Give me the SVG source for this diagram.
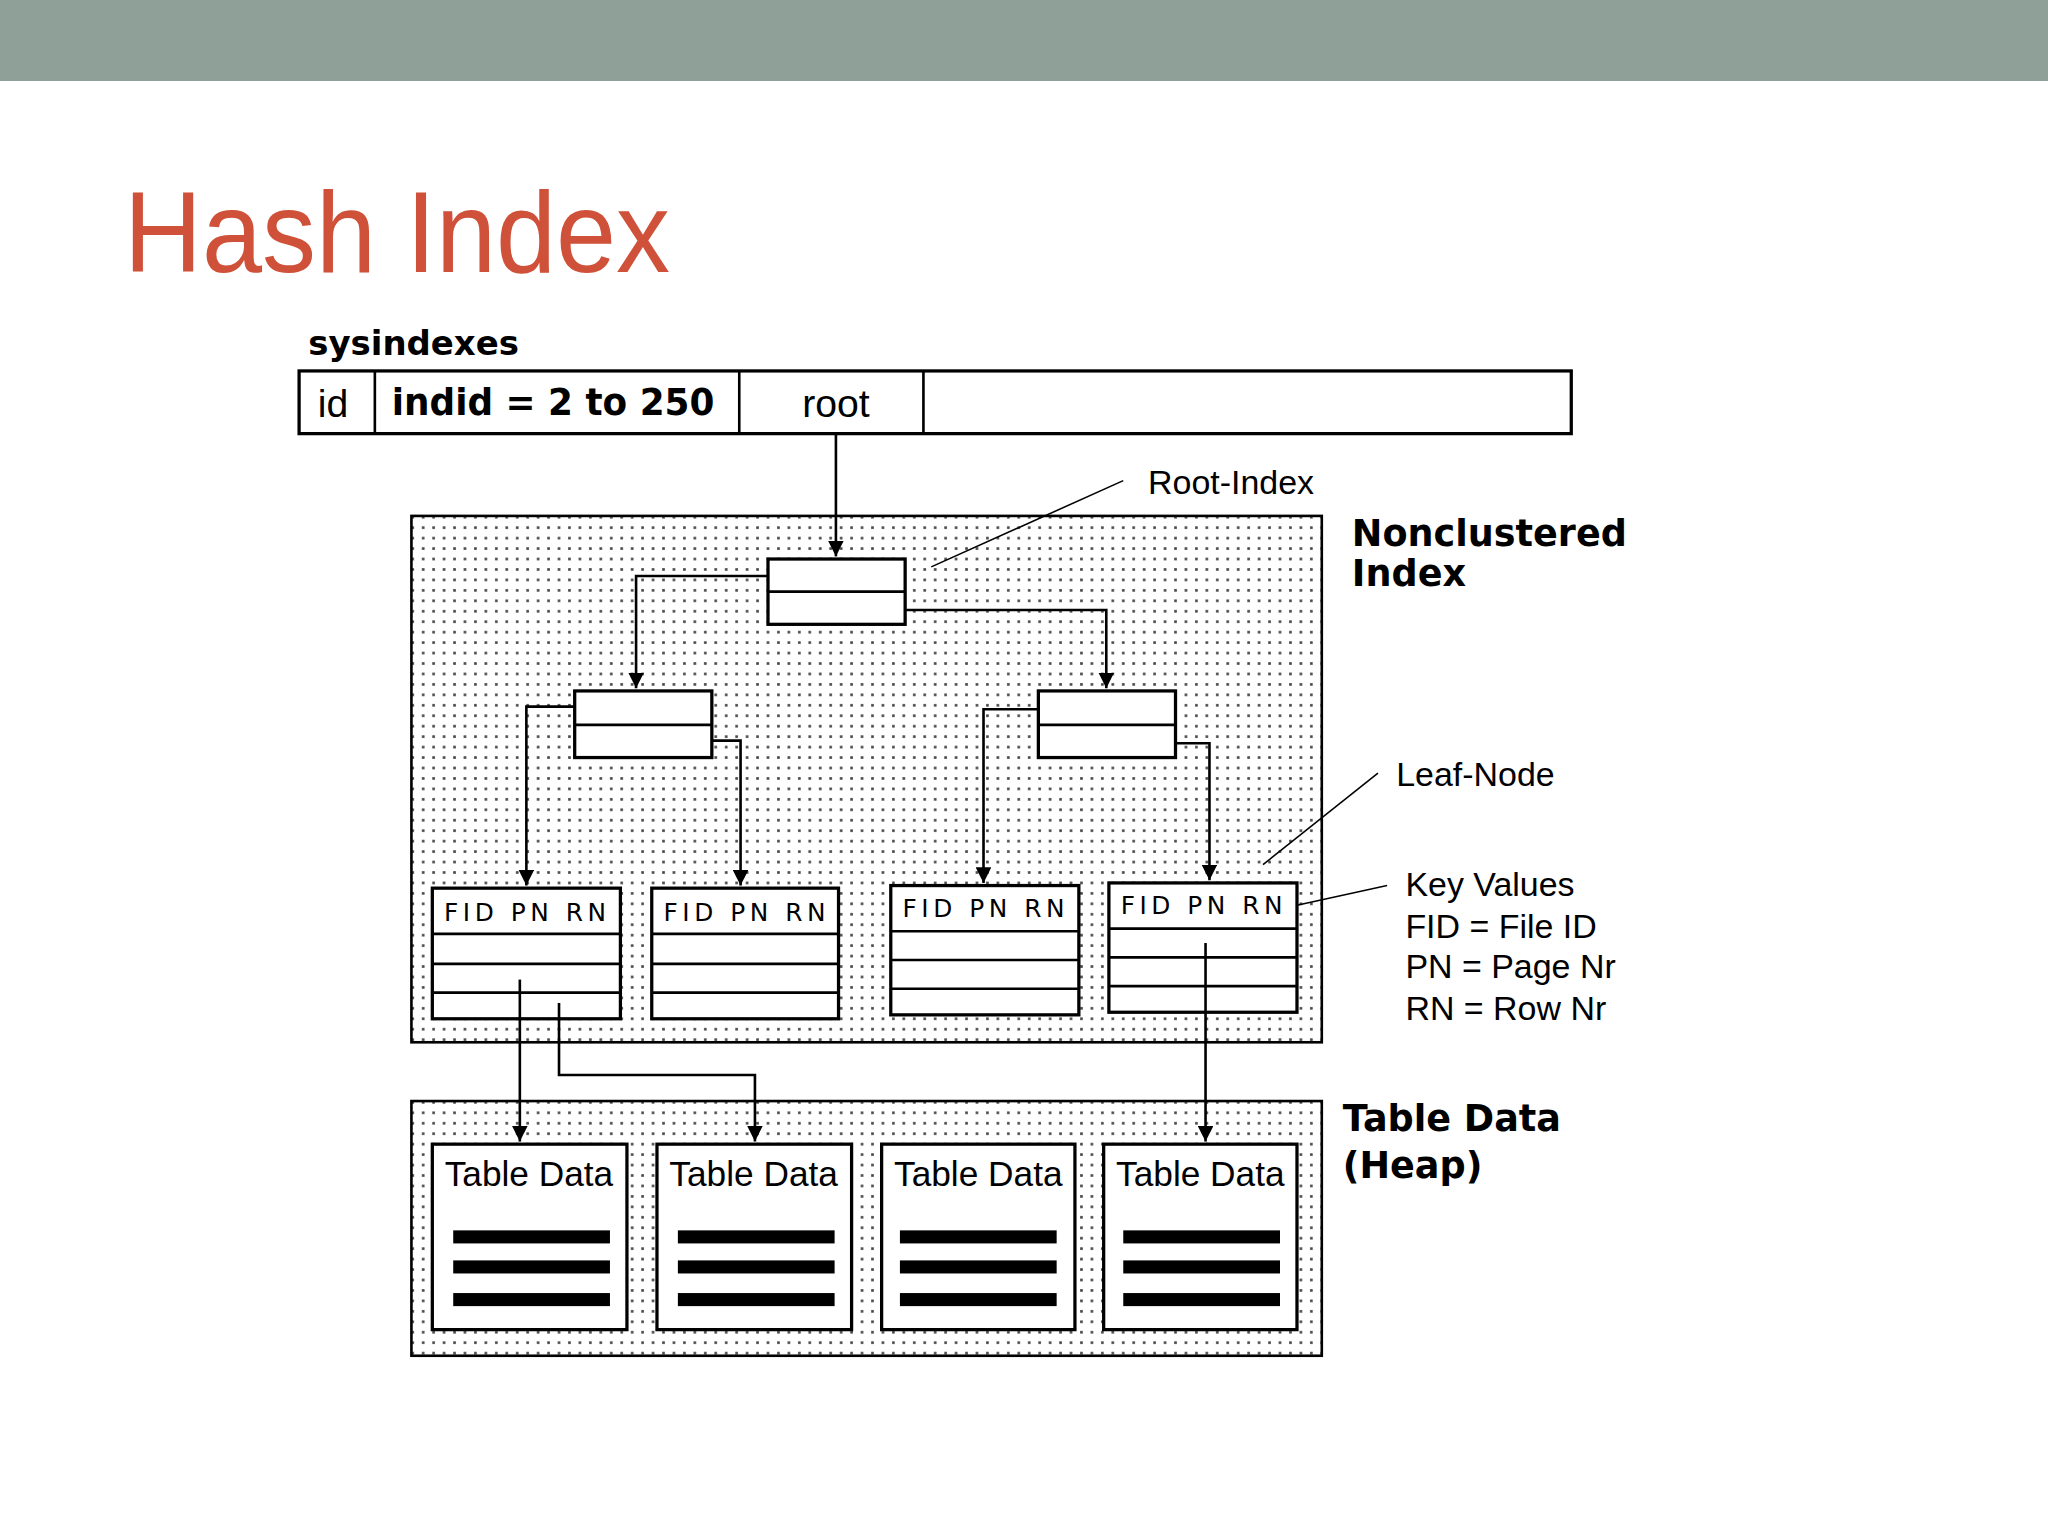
<svg xmlns="http://www.w3.org/2000/svg" width="2048" height="1536" viewBox="0 0 2048 1536">
<defs>
<pattern id="dots" width="8" height="8" patternUnits="userSpaceOnUse"><rect width="8" height="8" fill="#fff"/><rect x="3" y="3" width="2" height="2" fill="#444"/></pattern>
<marker id="ar" viewBox="0 0 10 10" refX="10" refY="5" markerWidth="6" markerHeight="6" orient="auto"><path d="M0,0L10,5L0,10z" fill="#000"/></marker>
<style>
.b{fill:#fff;stroke:#000;stroke-width:2.5}
.c{fill:none;stroke:#000;stroke-width:2}
.l{fill:none;stroke:#000;stroke-width:1.2}
.t{font-family:"Liberation Sans",Arial,sans-serif;fill:#000}
.bd{font-family:"DejaVu Sans",sans-serif;font-weight:bold;fill:#000}
.f{font-family:"DejaVu Sans",sans-serif;font-size:19px;letter-spacing:1px;fill:#000}
.bar{fill:#000}
</style>
</defs>
<rect width="2048" height="1536" fill="#fff"/>
<rect width="2048" height="81" fill="#8fa098"/>
<g transform="scale(1.30612)">
<text x="95" y="208" font-family="Liberation Sans,Arial,sans-serif" font-size="88" fill="#d0513a" textLength="418" lengthAdjust="spacingAndGlyphs">Hash Index</text>
<text class="bd" x="236" y="272" font-size="26">sysindexes</text>
<g id="sysrow">
<rect class="b" x="229" y="284" width="974" height="48"/>
<path class="c" d="M287,284V332M566,284V332M707,284V332"/>
<text class="t" x="255" y="319" font-size="30" text-anchor="middle">id</text>
<text class="bd" x="300" y="318" font-size="28" textLength="247" lengthAdjust="spacingAndGlyphs">indid = 2 to 250</text>
<text class="t" x="640" y="319" font-size="30" text-anchor="middle">root</text>
</g>
<g id="ncbox"><rect x="315" y="395" width="697" height="403" fill="url(#dots)" stroke="#000" stroke-width="2"/></g>
<g id="tdbox"><rect x="315" y="843" width="697" height="195" fill="url(#dots)" stroke="#000" stroke-width="2"/></g>
<text class="t" x="879" y="378" font-size="26">Root-Index</text>
<text class="bd" x="1035" y="418" font-size="28">Nonclustered</text>
<text class="bd" x="1035" y="449" font-size="28">Index</text>
<text class="t" x="1069" y="602" font-size="26">Leaf-Node</text>
<text class="t" x="1076" y="686" font-size="26">Key Values</text>
<text class="t" x="1076" y="718" font-size="26">FID = File ID</text>
<text class="t" x="1076" y="749" font-size="26">PN = Page Nr</text>
<text class="t" x="1076" y="781" font-size="26">RN = Row Nr</text>
<text class="bd" x="1028" y="866" font-size="28">Table Data</text>
<text class="bd" x="1028" y="902" font-size="28">(Heap)</text>
<g id="root"><rect class="b" x="588" y="428" width="105" height="50"/><path class="c" d="M588,453H693"/></g>
<g id="midL"><rect class="b" x="440" y="529" width="105" height="51"/><path class="c" d="M440,555H545"/></g>
<g id="midR"><rect class="b" x="795" y="529" width="105" height="51"/><path class="c" d="M795,555H900"/></g>
<g id="leaf1"><rect class="b" x="331" y="680" width="144" height="100"/><path class="c" d="M331,715H475M331,738H475M331,760H475"/><text class="f" x="340" y="705" textLength="125" lengthAdjust="spacing">FID   PN   RN</text></g>
<g id="leaf2"><rect class="b" x="499" y="680" width="143" height="100"/><path class="c" d="M499,715H642M499,738H642M499,760H642"/><text class="f" x="508" y="705" textLength="125" lengthAdjust="spacing">FID   PN   RN</text></g>
<g id="leaf3"><rect class="b" x="682" y="678" width="144" height="99"/><path class="c" d="M682,713H826M682,735H826M682,757H826"/><text class="f" x="691" y="702" textLength="125" lengthAdjust="spacing">FID   PN   RN</text></g>
<g id="leaf4"><rect class="b" x="849" y="676" width="144" height="99"/><path class="c" d="M849,711H993M849,733H993M849,755H993"/><text class="f" x="858" y="700" textLength="125" lengthAdjust="spacing">FID   PN   RN</text></g>
<g id="td1"><rect class="b" x="331" y="876" width="149" height="142"/><text class="t" x="405" y="908" font-size="27" text-anchor="middle">Table Data</text><rect class="bar" x="347" y="942" width="120" height="10"/><rect class="bar" x="347" y="965" width="120" height="10"/><rect class="bar" x="347" y="990" width="120" height="10"/></g>
<g id="td2"><rect class="b" x="503" y="876" width="149" height="142"/><text class="t" x="577" y="908" font-size="27" text-anchor="middle">Table Data</text><rect class="bar" x="519" y="942" width="120" height="10"/><rect class="bar" x="519" y="965" width="120" height="10"/><rect class="bar" x="519" y="990" width="120" height="10"/></g>
<g id="td3"><rect class="b" x="675" y="876" width="148" height="142"/><text class="t" x="749" y="908" font-size="27" text-anchor="middle">Table Data</text><rect class="bar" x="689" y="942" width="120" height="10"/><rect class="bar" x="689" y="965" width="120" height="10"/><rect class="bar" x="689" y="990" width="120" height="10"/></g>
<g id="td4"><rect class="b" x="845" y="876" width="148" height="142"/><text class="t" x="919" y="908" font-size="27" text-anchor="middle">Table Data</text><rect class="bar" x="860" y="942" width="120" height="10"/><rect class="bar" x="860" y="965" width="120" height="10"/><rect class="bar" x="860" y="990" width="120" height="10"/></g>
<g id="connectors">
<path class="c" d="M640,332V426" marker-end="url(#ar)"/>
<path class="c" d="M588,441H487V527" marker-end="url(#ar)"/>
<path class="c" d="M693,467H847V527" marker-end="url(#ar)"/>
<path class="c" d="M440,541H403V678" marker-end="url(#ar)"/>
<path class="c" d="M545,567H567V678" marker-end="url(#ar)"/>
<path class="c" d="M795,543H753V676" marker-end="url(#ar)"/>
<path class="c" d="M900,569H926V674" marker-end="url(#ar)"/>
<path class="c" d="M398,750V874" marker-end="url(#ar)"/>
<path class="c" d="M428,768V823H578V874" marker-end="url(#ar)"/>
<path class="c" d="M923,722V874" marker-end="url(#ar)"/>
<path class="l" d="M860,368L713,434"/>
<path class="l" d="M1055,592L967,662"/>
<path class="l" d="M1062,678L993,693"/>
</g>
</g>
</svg>
